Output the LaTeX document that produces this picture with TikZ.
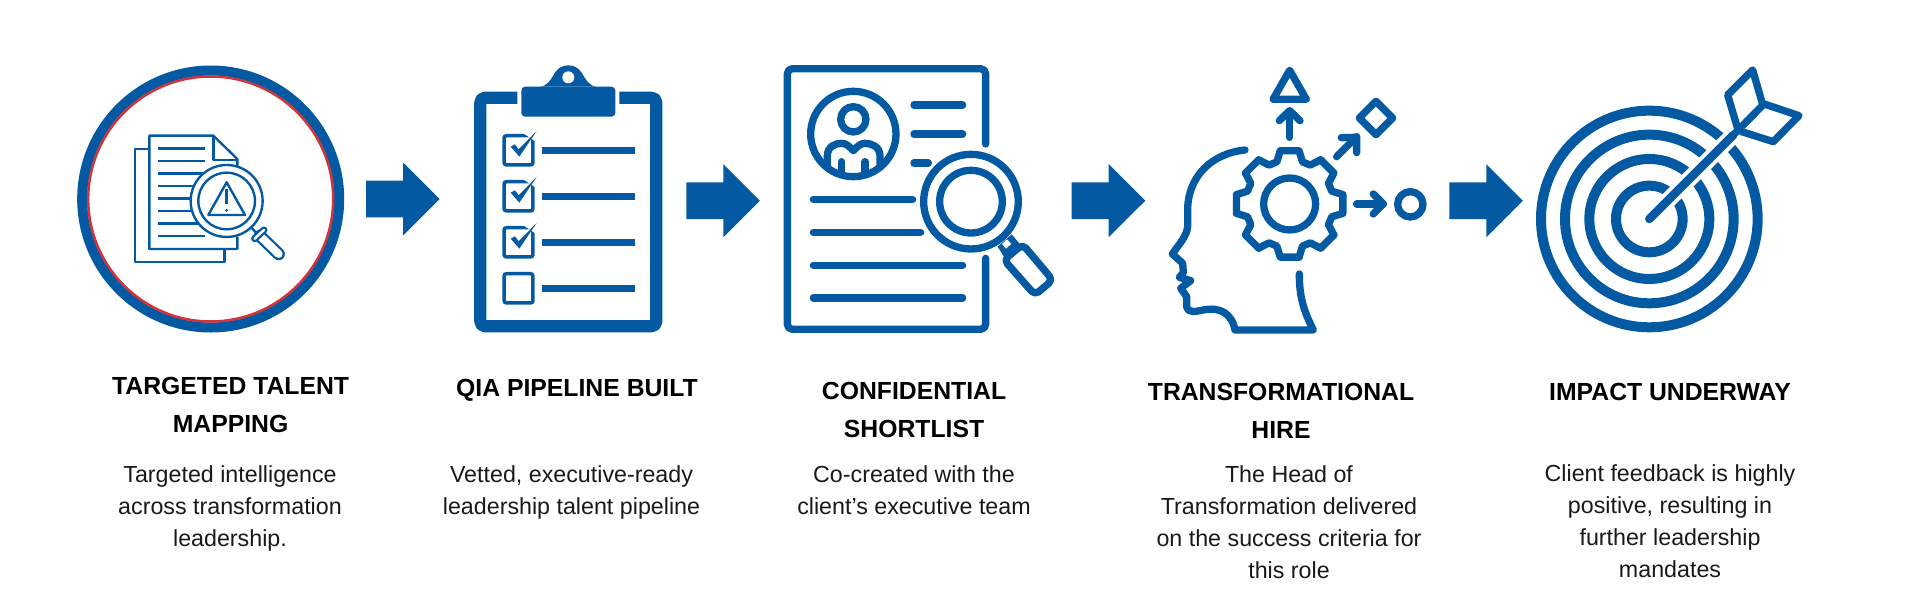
\documentclass[tikz,border=0pt]{standalone}
\usepackage{fontspec}
\setmainfont{Liberation Sans}
\definecolor{qiablue}{HTML}{045AA2}
\definecolor{ringred}{HTML}{D2323A}
\tikzset{
  iconline/.style={draw=qiablue,line width=2.93pt,line cap=round,line join=round},
  thinline/.style={draw=qiablue,line width=0.95pt,line join=round},
  titletext/.style={font=\fontsize{9.9pt}{14.9pt}\selectfont\bfseries,align=center,anchor=base},
  bodytext/.style={font=\fontsize{9.3pt}{12.7pt}\selectfont,align=center,anchor=base,text=black!90},
}
\begin{document}
\begin{tikzpicture}[x=0.4pt,y=-0.4pt]
  \useasboundingbox (0,0) rectangle (1920,613);

  % block arrows
  \foreach \xa/\ya in {366/199,686.3/200.7,1071.7/200.7,1449.3/200.7}
    \fill[qiablue] (\xa,\ya-18.3) -- ++(37,0) -- ++(0,-18.2) -- (\xa+73.6,\ya)
      -- (\xa+37,\ya+36.5) -- ++(0,-18.2) -- (\xa,\ya+18.3) -- cycle;

  % mapping icon
  \coordinate (ring) at (210.7,199);
  \draw[qiablue,line width=4pt] (ring) circle (128.5);
  \draw[ringred,line width=1pt] (ring) circle (122.5);
  \begin{scope}[shift={(60,50)},scale=0.3333]
    \draw[thinline] (265,297) -- (225,297) -- (225,636) -- (493,636) -- (493,598);
    \draw[thinline] (532,350) -- (532,327) -- (460,257) -- (268,257) -- (268,597) -- (532,597) -- (532,560);
    \draw[thinline] (460,257) -- (460,330) -- (532,330);
    \foreach \yb in {295,333,370,408,445,483,520,558}
      \draw[thinline] (295,\yb) -- (436,\yb);
    \fill[white] (500,453) circle (108);
    \draw[thinline] (500,453) circle (108);
    \draw[thinline] (500,453) circle (85);
    \draw[thinline] (500,397) -- (445,495) -- (555,495) -- cycle;
    \draw[qiablue,line width=1.1pt] (500,418) -- (500,462);
    \fill[qiablue] (500,481) circle (5);
    \draw[thinline] (572,530) -- (590,550);
    \draw[qiablue,line width=5pt,line cap=round] (600,558) -- (656,612);
    \draw[white,line width=3.2pt,line cap=round] (600,558) -- (656,612);
    \draw[qiablue,line width=2.8pt,line cap=round] (584,566) -- (612,540);
    \draw[white,line width=1pt,line cap=round] (584,566) -- (612,540);
  \end{scope}

  % clipboard icon
  \begin{scope}[shift={(460,50)},scale=0.3333]
    \draw[qiablue,line width=4.9pt,line join=round,rounded corners=2pt]
      (172,143) -- (61,143) -- (61,829) -- (589,829) -- (589,143) -- (478,143);
    \fill[qiablue,rounded corners=1.5pt] (184,110) rectangle (466,200);
    \fill[qiablue] (240,110) .. controls (262,108) and (272,90) .. (285,68)
      .. controls (295,52) and (310,46) .. (325,46) .. controls (340,46) and (355,52) .. (365,68)
      .. controls (378,90) and (388,108) .. (410,110) -- cycle;
    \fill[white] (325,82) circle (18);
    \foreach \yb in {0,138,276,414} {
      \draw[qiablue,line width=1.4pt,rounded corners=1pt] (132,257+\yb) rectangle (219,345+\yb);
      \fill[qiablue] (247,292+\yb) rectangle (525,312+\yb);
    }
    \foreach \yb in {0,138,276} {
      \fill[white] (190,250+\yb) -- (235,240+\yb) -- (235,280+\yb) -- cycle;
      \fill[qiablue] (152,290+\yb) -- (165,283+\yb) -- (176,298+\yb) -- (230,243+\yb) -- (178,320+\yb) -- cycle;
    }
  \end{scope}

  % shortlist icon
  \begin{scope}[shift={(770,50)},scale=0.3333]
    \draw[iconline,rounded corners=2pt] (647,282) -- (647,56) -- (52,56) -- (52,838) -- (647,838) -- (647,625);
    \draw[iconline] (250,252) circle (128);
    \draw[iconline] (250,208) circle (38);
    \draw[iconline] (172,345) -- (172,318) .. controls (172,290) and (195,280) .. (215,280)
      .. controls (230,280) and (240,292) .. (250,302) .. controls (260,292) and (270,280) .. (285,280)
      .. controls (305,280) and (330,290) .. (330,318) -- (330,345);
    \draw[iconline] (215,335) -- (215,372);
    \draw[iconline] (285,335) -- (285,372);
    \foreach \xa/\xb/\yb in {432/578/165,432/578/252,432/475/339,130/428/448,130/452/547,130/578/646,130/578/744}
      \draw[iconline] (\xa,\yb) -- (\xb,\yb);
    \fill[white] (603,455) circle (142);
    \draw[iconline] (603,455) circle (142);
    \draw[iconline] (603,455) circle (94);
    \fill[qiablue] (683,590) -- (725,553) -- (752,585) -- (705,625) -- cycle;
    \fill[white] (696,582) -- (711,568) -- (724,582) -- (708,596) -- cycle;
    \draw[iconline,fill=white,rounded corners=2pt] (702,630) -- (758,583) -- (848,690) -- (795,735) -- cycle;
  \end{scope}

  % hire icon
  \begin{scope}[shift={(1140,50)},scale=0.3333]
    \coordinate (gear) at (449,462);
    \draw[iconline] (gear) circle (78);
    \begin{scope}[shift={(gear)}]
      \foreach \a in {0,45,...,315}
        \draw[iconline] (\a-10:162) -- (\a+10:162) -- (\a+17:132) -- (\a+28:132) -- (\a+35:162);
    \end{scope}
    \draw[iconline] (315,300) .. controls (215,310) and (143,380) .. (143,480) -- (143,530)
      .. controls (140,560) and (115,585) .. (97,612) -- (128,640) -- (130,668) -- (118,682) -- (152,692)
      -- (122,715) -- (140,740) -- (140,770) .. controls (145,790) and (165,785) .. (190,780)
      .. controls (240,770) and (275,790) .. (285,840) -- (520,840) .. controls (490,780) and (478,740) .. (478,672);
    \draw[iconline] (449,262) -- (449,185);
    \draw[iconline] (418,212) -- (449,182) -- (480,212);
    \draw[iconline] (449,61) -- (399,148) -- (499,148) -- cycle;
    \draw[iconline] (708,154) -- (758,204) -- (708,254) -- (658,204) -- cycle;
    \draw[iconline] (590,320) -- (650,260);
    \draw[iconline] (604,263) -- (650,262) -- (650,308);
    \draw[iconline] (650,462) -- (730,462);
    \draw[iconline] (700,432) -- (730,462) -- (700,492);
    \draw[iconline] (811,463) circle (38);
  \end{scope}

  % target icon
  \begin{scope}[shift={(1500,50)},scale=0.3333]
    \coordinate (bull) at (448,507);
    \foreach \r in {325,253,180,100}
      \draw[qiablue,line width=4pt] (bull) circle (\r);
    \draw[white,line width=6.5pt] (500,455) -- (720,235);
    \draw[iconline,line width=3.4pt] (448,507) -- (700,255);
    \draw[iconline] (700,255) -- (788,166);
    \draw[iconline] (712,232) -- (683,135) -- (758,60) -- (787,160) -- (897,197) -- (820,275) -- (725,245);
  \end{scope}

  % labels, placed by the baseline of their last line
  \node[titletext] (title1) at (230.6,432) {TARGETED TALENT\\MAPPING};
  \node[titletext] (title2) at (577,396) {QIA PIPELINE BUILT};
  \node[titletext] (title3) at (914,437) {CONFIDENTIAL\\SHORTLIST};
  \node[titletext] (title4) at (1281,438) {TRANSFORMATIONAL\\HIRE};
  \node[titletext] (title5) at (1670,400) {IMPACT UNDERWAY};

  \node[bodytext] (body1) at (230,546) {Targeted intelligence\\across transformation\\leadership.};
  \node[bodytext] (body2) at (571.5,514) {Vetted, executive-ready\\leadership talent pipeline};
  \node[bodytext] (body3) at (914,514) {Co-created with the\\client’s executive team};
  \node[bodytext] (body4) at (1289,578) {The Head of\\Transformation delivered\\on the success criteria for\\this role};
  \node[bodytext] (body5) at (1670,577) {Client feedback is highly\\positive, resulting in\\further leadership\\mandates};
\end{tikzpicture}
\end{document}
